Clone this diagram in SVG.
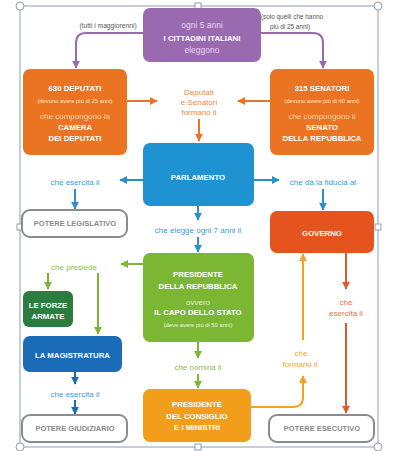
<svg xmlns="http://www.w3.org/2000/svg" width="400" height="451" viewBox="0 0 400 451">
<style>
text{font-family:"Liberation Sans",Arial,sans-serif;text-anchor:middle}
.b{font-weight:bold;font-size:7.8px;fill:#fff}
.s{font-size:5.8px;fill:#fde6d2}
.g{font-weight:bold;font-size:7.5px;fill:#8a8a8a}
.pot{fill:#fff;stroke:#8c8c8c;stroke-width:2}
.lbl{font-size:8px}
.c{fill:none;stroke-width:2}
.h{fill:#fff;stroke:#8d9db5;stroke-width:1}
</style>
<defs>
<marker id="mp" viewBox="0 0 10 10" refX="9" refY="5" markerWidth="8" markerHeight="8" markerUnits="userSpaceOnUse" orient="auto"><path d="M0,0L10,5L0,10z" fill="#9a6ab0"/></marker>
<marker id="mo" viewBox="0 0 10 10" refX="9" refY="5" markerWidth="8" markerHeight="8" markerUnits="userSpaceOnUse" orient="auto"><path d="M0,0L10,5L0,10z" fill="#ea7422"/></marker>
<marker id="mb" viewBox="0 0 10 10" refX="9" refY="5" markerWidth="8" markerHeight="8" markerUnits="userSpaceOnUse" orient="auto"><path d="M0,0L10,5L0,10z" fill="#2a90cc"/></marker>
<marker id="md" viewBox="0 0 10 10" refX="9" refY="5" markerWidth="8" markerHeight="8" markerUnits="userSpaceOnUse" orient="auto"><path d="M0,0L10,5L0,10z" fill="#1a6bb8"/></marker>
<marker id="mg" viewBox="0 0 10 10" refX="9" refY="5" markerWidth="8" markerHeight="8" markerUnits="userSpaceOnUse" orient="auto"><path d="M0,0L10,5L0,10z" fill="#7cb733"/></marker>
<marker id="my" viewBox="0 0 10 10" refX="9" refY="5" markerWidth="8" markerHeight="8" markerUnits="userSpaceOnUse" orient="auto"><path d="M0,0L10,5L0,10z" fill="#f2a224"/></marker>
<marker id="mr" viewBox="0 0 10 10" refX="9" refY="5" markerWidth="8" markerHeight="8" markerUnits="userSpaceOnUse" orient="auto"><path d="M0,0L10,5L0,10z" fill="#e05a2a"/></marker>
</defs>
<rect width="400" height="451" fill="#fff"/>
<g id="frame">
<rect x="20" y="6" width="358" height="441" fill="none" stroke="#8d9db5" stroke-width="1"/>
<circle class="h" cx="20" cy="6" r="4"/><circle class="h" cx="378" cy="6" r="4"/>
<circle class="h" cx="20" cy="447" r="4"/><circle class="h" cx="378" cy="447" r="4"/>
<rect class="h" x="195" y="3" width="6" height="6"/><rect class="h" x="195" y="444" width="6" height="6"/>
<rect class="h" x="17" y="224" width="6" height="6"/><rect class="h" x="375" y="224" width="6" height="6"/>
</g>
<g id="connectors">
<path class="c" stroke="#9a6ab0" d="M143,33H86Q76,33 76,43V68" marker-end="url(#mp)"/>
<path class="c" stroke="#9a6ab0" d="M261,33H313Q323,33 323,43V68" marker-end="url(#mp)"/>
<path class="c" stroke="#ea7422" d="M127,101H157" marker-end="url(#mo)"/>
<path class="c" stroke="#ea7422" d="M270,101H238" marker-end="url(#mo)"/>
<path class="c" stroke="#ea7422" d="M199,119V141" marker-end="url(#mo)"/>
<path class="c" stroke="#2a90cc" d="M143,180H120" marker-end="url(#mb)"/>
<path class="c" stroke="#2a90cc" d="M254,180H279" marker-end="url(#mb)"/>
<path class="c" stroke="#2a90cc" d="M198,206V220" marker-end="url(#mb)"/>
<path class="c" stroke="#2a90cc" d="M75,189V209" marker-end="url(#mb)"/>
<path class="c" stroke="#2a90cc" d="M323,189V210" marker-end="url(#mb)"/>
<path class="c" stroke="#2a90cc" d="M198,237V252" marker-end="url(#mb)"/>
<path class="c" stroke="#7cb733" d="M143,264H121" marker-end="url(#mg)"/>
<path class="c" stroke="#7cb733" d="M48,273V289" marker-end="url(#mg)"/>
<path class="c" stroke="#7cb733" d="M98,273V334" marker-end="url(#mg)"/>
<path class="c" stroke="#7cb733" d="M198,342V358" marker-end="url(#mg)"/>
<path class="c" stroke="#7cb733" d="M198,374V388" marker-end="url(#mg)"/>
<path class="c" stroke="#1a6bb8" d="M75,372V384" marker-end="url(#md)"/>
<path class="c" stroke="#1a6bb8" d="M75,400V414" marker-end="url(#md)"/>
<path class="c" stroke="#f2a224" d="M251,407H293Q303,407 303,397V376" marker-end="url(#my)"/>
<path class="c" stroke="#f2a224" d="M303,340V254" marker-end="url(#my)"/>
<path class="c" stroke="#e05a2a" d="M346,253V289" marker-end="url(#mr)"/>
<path class="c" stroke="#e05a2a" d="M346,323V413" marker-end="url(#mr)"/>
</g>
<g id="cittadini">
<rect x="143" y="8" width="118" height="54" rx="7" fill="#9a6ab0"/>
<text x="202" y="28" font-size="8.5" fill="#e6d8f0">ogni 5 anni</text>
<text class="b" x="202" y="41">I CITTADINI ITALIANI</text>
<text x="202" y="53" font-size="8.5" fill="#e6d8f0">eleggono</text>
</g>
<g id="labels">
<text x="108" y="28" font-size="6.7" fill="#555">(tutti i maggiorenni)</text>
<text x="292" y="19" font-size="6.4" fill="#555">(solo quelli che hanno</text>
<text x="290" y="29" font-size="6.4" fill="#555">più di 25 anni)</text>
<text class="lbl" fill="#ee8a3a" x="199" y="95">Deputati</text>
<text class="lbl" fill="#ee8a3a" x="199" y="105">e Senatori</text>
<text class="lbl" fill="#ee8a3a" x="199" y="115">formano il</text>
<text class="lbl" fill="#3d9ad8" x="75" y="185">che esercita il</text>
<text class="lbl" fill="#3d9ad8" x="323" y="185">che dà la fiducia al</text>
<text class="lbl" fill="#3d9ad8" x="198" y="233">che elegge ogni 7 anni il</text>
<text class="lbl" fill="#8cc04a" x="74" y="270">che presiede</text>
<text class="lbl" fill="#8cc04a" x="198" y="370">che nomina il</text>
<text class="lbl" fill="#3d9ad8" x="75" y="397">che esercita il</text>
<text class="lbl" fill="#f2a530" x="301" y="356">che</text>
<text class="lbl" fill="#f2a530" x="300" y="367">formano il</text>
<text class="lbl" fill="#e8704a" x="346" y="305">che</text>
<text class="lbl" fill="#e8704a" x="346" y="316">esercita il</text>
</g>
<g id="deputati">
<rect x="23" y="69" width="104" height="86" rx="7" fill="#ea7422"/>
<text class="b" x="75" y="91">630 DEPUTATI</text>
<text class="s" x="75" y="103">(devono avere più di 25 anni)</text>
<text x="75" y="119" font-size="8" fill="#fcd2ac">che compongono la</text>
<text class="b" x="75" y="130">CAMERA</text>
<text class="b" x="75" y="141">DEI DEPUTATI</text>
</g>
<g id="senatori">
<rect x="270" y="69" width="104" height="86" rx="7" fill="#ea7422"/>
<text class="b" x="322" y="91">315 SENATORI</text>
<text class="s" x="322" y="103">(devono avere più di 40 anni)</text>
<text x="322" y="119" font-size="8" fill="#fcd2ac">che compongono il</text>
<text class="b" x="322" y="130">SENATO</text>
<text class="b" x="322" y="141">DELLA REPUBBLICA</text>
</g>
<g id="parlamento">
<rect x="143" y="143" width="111" height="63" rx="7" fill="#1f93d2"/>
<text class="b" x="198" y="180">PARLAMENTO</text>
</g>
<g id="legislativo">
<rect class="pot" x="22" y="210" width="105" height="27" rx="8"/>
<text class="g" x="75" y="226">POTERE LEGISLATIVO</text>
</g>
<g id="governo">
<rect x="270" y="211" width="104" height="42" rx="7" fill="#e5531f"/>
<text class="b" x="322" y="236">GOVERNO</text>
</g>
<g id="presidente">
<rect x="143" y="253" width="111" height="89" rx="7" fill="#7cb733"/>
<text class="b" x="198" y="277">PRESIDENTE</text>
<text class="b" x="198" y="289">DELLA REPUBBLICA</text>
<text x="198" y="305" font-size="8" fill="#e0f0c8">ovvero</text>
<text class="b" x="198" y="315">IL CAPO DELLO STATO</text>
<text x="198" y="327" font-size="5.8" fill="#eef6e0">(deve avere più di 50 anni)</text>
</g>
<g id="forze">
<rect x="23" y="291" width="50" height="36" rx="6" fill="#2a7d3f"/>
<text class="b" x="48" y="308">LE FORZE</text>
<text class="b" x="48" y="319">ARMATE</text>
</g>
<g id="magistratura">
<rect x="23" y="336" width="99" height="36" rx="7" fill="#1a6bb8"/>
<text class="b" x="72.5" y="358">LA MAGISTRATURA</text>
</g>
<g id="giudiziario">
<rect class="pot" x="22" y="415" width="105" height="27" rx="8"/>
<text class="g" x="75" y="431">POTERE GIUDIZIARIO</text>
</g>
<g id="consiglio">
<rect x="143" y="389" width="108" height="53" rx="7" fill="#f29e1a"/>
<text class="b" x="197" y="407">PRESIDENTE</text>
<text class="b" x="197" y="419">DEL CONSIGLIO</text>
<text class="b" x="197" y="430">E I MINISTRI</text>
</g>
<g id="esecutivo">
<rect class="pot" x="269" y="415" width="105" height="27" rx="8"/>
<text class="g" x="322" y="431">POTERE ESECUTIVO</text>
</g>
</svg>
